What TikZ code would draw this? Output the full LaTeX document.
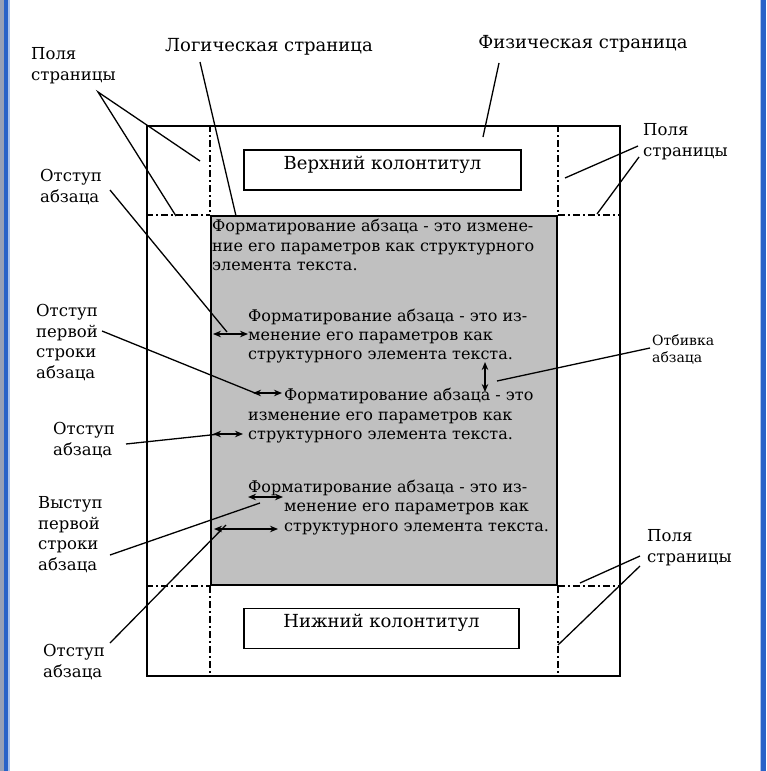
\documentclass[tikz,border=0pt]{standalone}
\usepackage{fontspec}
\setmainfont{DejaVu Serif}
\usetikzlibrary{arrows.meta}

\definecolor{logicgray}{RGB}{192,192,192}
\definecolor{barblue}{RGB}{40,98,200}
\definecolor{bargray}{RGB}{150,160,182}
\definecolor{barlight}{RGB}{170,195,235}

\tikzset{
  lbl/.style={font=\fontsize{16.5}{20.5}\selectfont, align=left, inner sep=0pt, anchor=base west},
  toplbl/.style={font=\fontsize{18}{21}\selectfont, inner sep=0pt, anchor=base},
  partext/.style={font=\fontsize{16}{20}\selectfont, inner sep=0pt, anchor=base west},
  edge/.style={draw, line width=1.8pt, inner sep=0pt},
  dashdot/.style={line width=1.5pt, dash pattern=on 7pt off 3pt on 2pt off 3pt},
  leader/.style={line width=1.3pt},
  span/.style={line width=1.6pt, {Stealth[length=8pt,width=6.5pt]}-{Stealth[length=8pt,width=6.5pt]}},
  colbox/.style={edge, minimum height=40pt, text height=12pt, text depth=14pt, font=\fontsize{18}{21}\selectfont}
}

\begin{document}
\begin{tikzpicture}[x=1pt,y=-1pt]
\useasboundingbox (0,0) rectangle (766,771);
% window frame
\fill[bargray] (0,0) rectangle (4,771);
\fill[barblue] (4,0) rectangle (8,771);
\fill[barlight] (8,0) rectangle (9.5,771);
\fill[barlight] (759.5,0) rectangle (761,771);
\fill[barblue] (761,0) rectangle (766,771);

% pages
\node[edge, minimum width=473pt, minimum height=550pt] (phys) at (383.5,401) {};
\node[edge, fill=logicgray, minimum width=346pt, minimum height=369pt] (logic) at (384,400.5) {};
\node[colbox, minimum width=277pt] (header) at (382.5,170) {Верхний колонтитул};
\node[colbox, minimum width=275pt] (footer) at (381.5,628.5) {Нижний колонтитул};

% margins
\draw[dashdot] (logic.north west |- phys.north) -- (logic.north west);
\draw[dashdot] (logic.north east |- phys.north) -- (logic.north east);
\draw[dashdot] (logic.south west) -- (logic.south west |- phys.south);
\draw[dashdot] (logic.south east) -- (logic.south east |- phys.south);
\draw[dashdot] (phys.west |- logic.north) -- (logic.north west);
\draw[dashdot] (logic.north east) -- (phys.east |- logic.north);
\draw[dashdot] (phys.west |- logic.south) -- (logic.south west);
\draw[dashdot] (logic.south east) -- (phys.east |- logic.south);

% paragraphs
\node[partext] (pA1) at (212,231) {Форматирование абзаца - это измене-};
\node[partext] (pA2) at (212,251) {ние его параметров как структурного};
\node[partext] (pA3) at (212,270) {элемента текста.};
\node[partext] (pB1) at (248,321) {Форматирование абзаца - это из-};
\node[partext] (pB2) at (248,340) {менение его параметров как};
\node[partext] (pB3) at (248,359) {структурного элемента текста.};
\node[partext] (pC1) at (284,400) {Форматирование абзаца - это};
\node[partext] (pC2) at (248,420) {изменение его параметров как};
\node[partext] (pC3) at (248,439) {структурного элемента текста.};
\node[partext] (pD1) at (248,492) {Форматирование абзаца - это из-};
\node[partext] (pD2) at (284,511) {менение его параметров как};
\node[partext] (pD3) at (284,531) {структурного элемента текста.};

% labels
\node[lbl] (marginsTL) at (31,80) {Поля\\страницы};
\node[toplbl] (logicLbl) at (269,51) {Логическая страница};
\node[toplbl] (physLbl) at (583,48) {Физическая страница};
\node[lbl] (marginsTR) at (643,156) {Поля\\страницы};
\node[lbl] (indentA) at (40,202) {Отступ\\абзаца};
\node[lbl] (firstLine) at (36,378) {Отступ\\первой\\строки\\абзаца};
\node[lbl] (indentB) at (53,455) {Отступ\\абзаца};
\node[lbl] (hanging) at (38,570) {Выступ\\первой\\строки\\абзаца};
\node[lbl] (indentC) at (43,677) {Отступ\\абзаца};
\node[lbl] (marginsBR) at (647,562) {Поля\\страницы};
\node[lbl, font=\fontsize{14}{17}\selectfont] (spacing) at (652,362) {Отбивка\\абзаца};

% sizes
\draw[span] (213,334) -- (248,334);
\draw[span] (253,393) -- (282,393);
\draw[span] (213,434) -- (243,434);
\draw[span] (248,497) -- (283,497);
\draw[span] (214,529) -- (278,529);
\draw[span] (485,362) -- (485,392);

% leader ends
\coordinate (tlFrom) at (98,92);
\coordinate (tlTo1) at (200,161);
\coordinate (tlTo2) at (176,216);
\coordinate (logicFrom) at (200,62);
\coordinate (logicTo) at (236,216);
\coordinate (physFrom) at (499,63);
\coordinate (physTo) at (483,137);
\coordinate (trFrom1) at (638,146);
\coordinate (trTo1) at (565,178);
\coordinate (trFrom2) at (639,157);
\coordinate (trTo2) at (597,214);
\coordinate (indAFrom) at (110,190);
\coordinate (indATo) at (227,332);
\coordinate (firstFrom) at (102,331);
\coordinate (firstTo) at (255,393);
\coordinate (indBFrom) at (126,444);
\coordinate (indBTo) at (220,434);
\coordinate (hangFrom) at (110,555);
\coordinate (hangTo) at (260,503);
\coordinate (indCFrom) at (110,643);
\coordinate (indCTo) at (226,525);
\coordinate (brFrom1) at (640,556);
\coordinate (brTo1) at (580,583);
\coordinate (brFrom2) at (640,566);
\coordinate (brTo2) at (558,645);
\coordinate (spFrom) at (650,348);
\coordinate (spTo) at (497,381);

% leaders
\draw[leader] (tlTo1) -- (tlFrom) -- (tlTo2);
\draw[leader] (logicFrom) -- (logicTo);
\draw[leader] (physFrom) -- (physTo);
\draw[leader] (trFrom1) -- (trTo1);
\draw[leader] (trFrom2) -- (trTo2);
\draw[leader] (indAFrom) -- (indATo);
\draw[leader] (firstFrom) -- (firstTo);
\draw[leader] (indBFrom) -- (indBTo);
\draw[leader] (hangFrom) -- (hangTo);
\draw[leader] (indCFrom) -- (indCTo);
\draw[leader] (brFrom1) -- (brTo1);
\draw[leader] (brFrom2) -- (brTo2);
\draw[leader] (spFrom) -- (spTo);
\end{tikzpicture}
\end{document}
